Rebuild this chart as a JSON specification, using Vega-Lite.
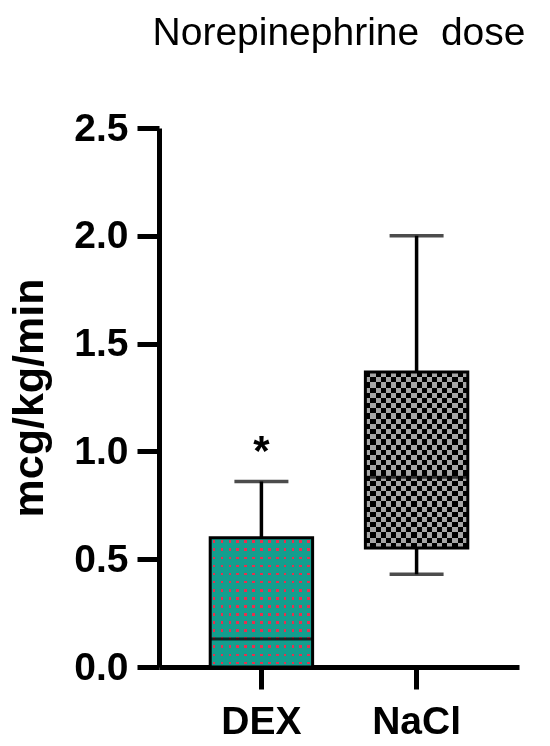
{
  "$schema": "https://vega.github.io/schema/vega-lite/v6.json",
  "width": 360,
  "height": 539,
  "autosize": {"type": "none"},
  "padding": {"left": 159, "top": 128, "right": 31, "bottom": 79},
  "background": "white",
  "title": {
    "text": "Norepinephrine\u00a0\u00a0dose",
    "font": "Liberation Sans",
    "fontSize": 39,
    "fontWeight": "normal",
    "color": "black",
    "anchor": "middle",
    "offset": 56
  },
  "data": {
    "values": [
      {"group": "DEX", "min": 0, "q1": 0, "median": 0.13, "q3": 0.6, "max": 0.86, "sig": "*"},
      {"group": "NaCl", "min": 0.43, "q1": 0.552, "median": 0.88, "q3": 1.368, "max": 2.0, "sig": ""}
    ]
  },
  "encoding": {
    "x": {
      "field": "group",
      "type": "nominal",
      "sort": ["DEX", "NaCl"],
      "title": null,
      "scale": {"paddingInner": 0.34, "paddingOuter": 0.33},
      "axis": {"labelAngle": 0}
    }
  },
  "layer": [
    {
      "mark": {"type": "rule", "color": "black", "strokeWidth": 3.5},
      "encoding": {
        "y": {"field": "min", "type": "quantitative", "title": "mcg/kg/min", "scale": {"domain": [0, 2.5]}, "axis": {"values": [0, 0.5, 1, 1.5, 2, 2.5], "format": ".1f"}},
        "y2": {"field": "max"}
      }
    },
    {
      "mark": {"type": "tick", "color": "black", "size": 54, "thickness": 3.5},
      "encoding": {
        "y": {"field": "min", "type": "quantitative", "title": "mcg/kg/min", "scale": {"domain": [0, 2.5]}, "axis": {"values": [0, 0.5, 1, 1.5, 2, 2.5], "format": ".1f"}}
      }
    },
    {
      "mark": {"type": "tick", "color": "black", "size": 54, "thickness": 3.5},
      "encoding": {
        "y": {"field": "max", "type": "quantitative", "title": "mcg/kg/min", "scale": {"domain": [0, 2.5]}, "axis": {"values": [0, 0.5, 1, 1.5, 2, 2.5], "format": ".1f"}}
      }
    },
    {
      "transform": [{"filter": "datum.group === 'DEX'"}],
      "mark": {
        "type": "bar",
        "fill": {
          "gradient": "linear", "x1": 0, "y1": 0, "x2": 1, "y2": 0,
          "stops": [
            {"offset": 0, "color": "#149e8e"},
            {"offset": 0.0255, "color": "#149e8e"}, {"offset": 0.0255, "color": "#e8304f"}, {"offset": 0.0515, "color": "#e8304f"}, {"offset": 0.0515, "color": "#149e8e"},
            {"offset": 0.1024, "color": "#149e8e"}, {"offset": 0.1024, "color": "#e8304f"}, {"offset": 0.1284, "color": "#e8304f"}, {"offset": 0.1284, "color": "#149e8e"},
            {"offset": 0.1793, "color": "#149e8e"}, {"offset": 0.1793, "color": "#e8304f"}, {"offset": 0.2053, "color": "#e8304f"}, {"offset": 0.2053, "color": "#149e8e"},
            {"offset": 0.2563, "color": "#149e8e"}, {"offset": 0.2563, "color": "#e8304f"}, {"offset": 0.2823, "color": "#e8304f"}, {"offset": 0.2823, "color": "#149e8e"},
            {"offset": 0.3332, "color": "#149e8e"}, {"offset": 0.3332, "color": "#e8304f"}, {"offset": 0.3592, "color": "#e8304f"}, {"offset": 0.3592, "color": "#149e8e"},
            {"offset": 0.4101, "color": "#149e8e"}, {"offset": 0.4101, "color": "#e8304f"}, {"offset": 0.4361, "color": "#e8304f"}, {"offset": 0.4361, "color": "#149e8e"},
            {"offset": 0.4870, "color": "#149e8e"}, {"offset": 0.4870, "color": "#e8304f"}, {"offset": 0.5130, "color": "#e8304f"}, {"offset": 0.5130, "color": "#149e8e"},
            {"offset": 0.5640, "color": "#149e8e"}, {"offset": 0.5640, "color": "#e8304f"}, {"offset": 0.5900, "color": "#e8304f"}, {"offset": 0.5900, "color": "#149e8e"},
            {"offset": 0.6409, "color": "#149e8e"}, {"offset": 0.6409, "color": "#e8304f"}, {"offset": 0.6669, "color": "#e8304f"}, {"offset": 0.6669, "color": "#149e8e"},
            {"offset": 0.7178, "color": "#149e8e"}, {"offset": 0.7178, "color": "#e8304f"}, {"offset": 0.7438, "color": "#e8304f"}, {"offset": 0.7438, "color": "#149e8e"},
            {"offset": 0.7947, "color": "#149e8e"}, {"offset": 0.7947, "color": "#e8304f"}, {"offset": 0.8207, "color": "#e8304f"}, {"offset": 0.8207, "color": "#149e8e"},
            {"offset": 0.8717, "color": "#149e8e"}, {"offset": 0.8717, "color": "#e8304f"}, {"offset": 0.8977, "color": "#e8304f"}, {"offset": 0.8977, "color": "#149e8e"},
            {"offset": 0.9486, "color": "#149e8e"}, {"offset": 0.9486, "color": "#e8304f"}, {"offset": 0.9746, "color": "#e8304f"}, {"offset": 0.9746, "color": "#149e8e"},
            {"offset": 1, "color": "#149e8e"}
          ]
        }
      },
      "encoding": {
        "y": {"field": "q1", "type": "quantitative", "title": "mcg/kg/min", "scale": {"domain": [0, 2.5]}, "axis": {"values": [0, 0.5, 1, 1.5, 2, 2.5], "format": ".1f"}},
        "y2": {"field": "q3"}
      }
    },
    {
      "transform": [{"filter": "datum.group === 'DEX'"}],
      "mark": {
        "type": "bar",
        "fill": {
          "gradient": "linear", "x1": 0, "y1": 0, "x2": 0, "y2": 1,
          "stops": [
            {"offset": 0, "color": "#149e8e"},
            {"offset": 0.021, "color": "#149e8e"}, {"offset": 0.021, "color": "rgba(20,158,142,0)"}, {"offset": 0.0415, "color": "rgba(20,158,142,0)"}, {"offset": 0.0415, "color": "#149e8e"},
            {"offset": 0.0835, "color": "#149e8e"}, {"offset": 0.0835, "color": "rgba(20,158,142,0)"}, {"offset": 0.104, "color": "rgba(20,158,142,0)"}, {"offset": 0.104, "color": "#149e8e"},
            {"offset": 0.146, "color": "#149e8e"}, {"offset": 0.146, "color": "rgba(20,158,142,0)"}, {"offset": 0.1665, "color": "rgba(20,158,142,0)"}, {"offset": 0.1665, "color": "#149e8e"},
            {"offset": 0.2085, "color": "#149e8e"}, {"offset": 0.2085, "color": "rgba(20,158,142,0)"}, {"offset": 0.229, "color": "rgba(20,158,142,0)"}, {"offset": 0.229, "color": "#149e8e"},
            {"offset": 0.271, "color": "#149e8e"}, {"offset": 0.271, "color": "rgba(20,158,142,0)"}, {"offset": 0.2915, "color": "rgba(20,158,142,0)"}, {"offset": 0.2915, "color": "#149e8e"},
            {"offset": 0.3335, "color": "#149e8e"}, {"offset": 0.3335, "color": "rgba(20,158,142,0)"}, {"offset": 0.354, "color": "rgba(20,158,142,0)"}, {"offset": 0.354, "color": "#149e8e"},
            {"offset": 0.396, "color": "#149e8e"}, {"offset": 0.396, "color": "rgba(20,158,142,0)"}, {"offset": 0.4165, "color": "rgba(20,158,142,0)"}, {"offset": 0.4165, "color": "#149e8e"},
            {"offset": 0.4585, "color": "#149e8e"}, {"offset": 0.4585, "color": "rgba(20,158,142,0)"}, {"offset": 0.479, "color": "rgba(20,158,142,0)"}, {"offset": 0.479, "color": "#149e8e"},
            {"offset": 0.521, "color": "#149e8e"}, {"offset": 0.521, "color": "rgba(20,158,142,0)"}, {"offset": 0.5415, "color": "rgba(20,158,142,0)"}, {"offset": 0.5415, "color": "#149e8e"},
            {"offset": 0.5835, "color": "#149e8e"}, {"offset": 0.5835, "color": "rgba(20,158,142,0)"}, {"offset": 0.604, "color": "rgba(20,158,142,0)"}, {"offset": 0.604, "color": "#149e8e"},
            {"offset": 0.646, "color": "#149e8e"}, {"offset": 0.646, "color": "rgba(20,158,142,0)"}, {"offset": 0.6665, "color": "rgba(20,158,142,0)"}, {"offset": 0.6665, "color": "#149e8e"},
            {"offset": 0.7085, "color": "#149e8e"}, {"offset": 0.7085, "color": "rgba(20,158,142,0)"}, {"offset": 0.729, "color": "rgba(20,158,142,0)"}, {"offset": 0.729, "color": "#149e8e"},
            {"offset": 0.771, "color": "#149e8e"}, {"offset": 0.771, "color": "rgba(20,158,142,0)"}, {"offset": 0.7915, "color": "rgba(20,158,142,0)"}, {"offset": 0.7915, "color": "#149e8e"},
            {"offset": 0.8335, "color": "#149e8e"}, {"offset": 0.8335, "color": "rgba(20,158,142,0)"}, {"offset": 0.854, "color": "rgba(20,158,142,0)"}, {"offset": 0.854, "color": "#149e8e"},
            {"offset": 0.896, "color": "#149e8e"}, {"offset": 0.896, "color": "rgba(20,158,142,0)"}, {"offset": 0.9165, "color": "rgba(20,158,142,0)"}, {"offset": 0.9165, "color": "#149e8e"},
            {"offset": 0.9585, "color": "#149e8e"}, {"offset": 0.9585, "color": "rgba(20,158,142,0)"}, {"offset": 0.979, "color": "rgba(20,158,142,0)"}, {"offset": 0.979, "color": "#149e8e"},
            {"offset": 1, "color": "#149e8e"}
          ]
        }
      },
      "encoding": {
        "y": {"field": "q1", "type": "quantitative", "title": "mcg/kg/min", "scale": {"domain": [0, 2.5]}, "axis": {"values": [0, 0.5, 1, 1.5, 2, 2.5], "format": ".1f"}},
        "y2": {"field": "q3"}
      }
    },
    {
      "transform": [{"filter": "datum.group === 'NaCl'"}],
      "mark": {
        "type": "bar",
        "fill": {
          "gradient": "linear", "x1": 0, "y1": 0, "x2": 1, "y2": 0,
          "stops": [
            {"offset": 0, "color": "#a6a6a6"}, {"offset": 0.05, "color": "#a6a6a6"}, {"offset": 0.05, "color": "#000000"}, {"offset": 0.1, "color": "#000000"},
            {"offset": 0.1, "color": "#a6a6a6"}, {"offset": 0.15, "color": "#a6a6a6"}, {"offset": 0.15, "color": "#000000"}, {"offset": 0.2, "color": "#000000"},
            {"offset": 0.2, "color": "#a6a6a6"}, {"offset": 0.25, "color": "#a6a6a6"}, {"offset": 0.25, "color": "#000000"}, {"offset": 0.3, "color": "#000000"},
            {"offset": 0.3, "color": "#a6a6a6"}, {"offset": 0.35, "color": "#a6a6a6"}, {"offset": 0.35, "color": "#000000"}, {"offset": 0.4, "color": "#000000"},
            {"offset": 0.4, "color": "#a6a6a6"}, {"offset": 0.45, "color": "#a6a6a6"}, {"offset": 0.45, "color": "#000000"}, {"offset": 0.5, "color": "#000000"},
            {"offset": 0.5, "color": "#a6a6a6"}, {"offset": 0.55, "color": "#a6a6a6"}, {"offset": 0.55, "color": "#000000"}, {"offset": 0.6, "color": "#000000"},
            {"offset": 0.6, "color": "#a6a6a6"}, {"offset": 0.65, "color": "#a6a6a6"}, {"offset": 0.65, "color": "#000000"}, {"offset": 0.7, "color": "#000000"},
            {"offset": 0.7, "color": "#a6a6a6"}, {"offset": 0.75, "color": "#a6a6a6"}, {"offset": 0.75, "color": "#000000"}, {"offset": 0.8, "color": "#000000"},
            {"offset": 0.8, "color": "#a6a6a6"}, {"offset": 0.85, "color": "#a6a6a6"}, {"offset": 0.85, "color": "#000000"}, {"offset": 0.9, "color": "#000000"},
            {"offset": 0.9, "color": "#a6a6a6"}, {"offset": 0.95, "color": "#a6a6a6"}, {"offset": 0.95, "color": "#000000"}, {"offset": 1, "color": "#000000"}
          ]
        }
      },
      "encoding": {
        "y": {"field": "q1", "type": "quantitative", "title": "mcg/kg/min", "scale": {"domain": [0, 2.5]}, "axis": {"values": [0, 0.5, 1, 1.5, 2, 2.5], "format": ".1f"}},
        "y2": {"field": "q3"}
      }
    },
    {
      "transform": [{"filter": "datum.group === 'NaCl'"}],
      "mark": {
        "type": "bar",
        "blend": "difference",
        "fill": {
          "gradient": "linear", "x1": 0, "y1": 0, "x2": 0, "y2": 1,
          "stops": [
            {"offset": 0, "color": "#a6a6a6"}, {"offset": 0.0294, "color": "#a6a6a6"}, {"offset": 0.0294, "color": "#000000"}, {"offset": 0.0588, "color": "#000000"},
            {"offset": 0.0588, "color": "#a6a6a6"}, {"offset": 0.0882, "color": "#a6a6a6"}, {"offset": 0.0882, "color": "#000000"}, {"offset": 0.1176, "color": "#000000"},
            {"offset": 0.1176, "color": "#a6a6a6"}, {"offset": 0.1471, "color": "#a6a6a6"}, {"offset": 0.1471, "color": "#000000"}, {"offset": 0.1765, "color": "#000000"},
            {"offset": 0.1765, "color": "#a6a6a6"}, {"offset": 0.2059, "color": "#a6a6a6"}, {"offset": 0.2059, "color": "#000000"}, {"offset": 0.2353, "color": "#000000"},
            {"offset": 0.2353, "color": "#a6a6a6"}, {"offset": 0.2647, "color": "#a6a6a6"}, {"offset": 0.2647, "color": "#000000"}, {"offset": 0.2941, "color": "#000000"},
            {"offset": 0.2941, "color": "#a6a6a6"}, {"offset": 0.3235, "color": "#a6a6a6"}, {"offset": 0.3235, "color": "#000000"}, {"offset": 0.3529, "color": "#000000"},
            {"offset": 0.3529, "color": "#a6a6a6"}, {"offset": 0.3824, "color": "#a6a6a6"}, {"offset": 0.3824, "color": "#000000"}, {"offset": 0.4118, "color": "#000000"},
            {"offset": 0.4118, "color": "#a6a6a6"}, {"offset": 0.4412, "color": "#a6a6a6"}, {"offset": 0.4412, "color": "#000000"}, {"offset": 0.4706, "color": "#000000"},
            {"offset": 0.4706, "color": "#a6a6a6"}, {"offset": 0.5, "color": "#a6a6a6"}, {"offset": 0.5, "color": "#000000"}, {"offset": 0.5294, "color": "#000000"},
            {"offset": 0.5294, "color": "#a6a6a6"}, {"offset": 0.5588, "color": "#a6a6a6"}, {"offset": 0.5588, "color": "#000000"}, {"offset": 0.5882, "color": "#000000"},
            {"offset": 0.5882, "color": "#a6a6a6"}, {"offset": 0.6176, "color": "#a6a6a6"}, {"offset": 0.6176, "color": "#000000"}, {"offset": 0.6471, "color": "#000000"},
            {"offset": 0.6471, "color": "#a6a6a6"}, {"offset": 0.6765, "color": "#a6a6a6"}, {"offset": 0.6765, "color": "#000000"}, {"offset": 0.7059, "color": "#000000"},
            {"offset": 0.7059, "color": "#a6a6a6"}, {"offset": 0.7353, "color": "#a6a6a6"}, {"offset": 0.7353, "color": "#000000"}, {"offset": 0.7647, "color": "#000000"},
            {"offset": 0.7647, "color": "#a6a6a6"}, {"offset": 0.7941, "color": "#a6a6a6"}, {"offset": 0.7941, "color": "#000000"}, {"offset": 0.8235, "color": "#000000"},
            {"offset": 0.8235, "color": "#a6a6a6"}, {"offset": 0.8529, "color": "#a6a6a6"}, {"offset": 0.8529, "color": "#000000"}, {"offset": 0.8824, "color": "#000000"},
            {"offset": 0.8824, "color": "#a6a6a6"}, {"offset": 0.9118, "color": "#a6a6a6"}, {"offset": 0.9118, "color": "#000000"}, {"offset": 0.9412, "color": "#000000"},
            {"offset": 0.9412, "color": "#a6a6a6"}, {"offset": 0.9706, "color": "#a6a6a6"}, {"offset": 0.9706, "color": "#000000"}, {"offset": 1, "color": "#000000"}
          ]
        }
      },
      "encoding": {
        "y": {"field": "q1", "type": "quantitative", "title": "mcg/kg/min", "scale": {"domain": [0, 2.5]}, "axis": {"values": [0, 0.5, 1, 1.5, 2, 2.5], "format": ".1f"}},
        "y2": {"field": "q3"}
      }
    },
    {
      "mark": {"type": "bar", "fillOpacity": 0, "stroke": "black", "strokeWidth": 3},
      "encoding": {
        "y": {"field": "q1", "type": "quantitative", "title": "mcg/kg/min", "scale": {"domain": [0, 2.5]}, "axis": {"values": [0, 0.5, 1, 1.5, 2, 2.5], "format": ".1f"}},
        "y2": {"field": "q3"}
      }
    },
    {
      "mark": {"type": "tick", "color": "black", "size": 102, "thickness": 3},
      "encoding": {
        "y": {"field": "median", "type": "quantitative", "title": "mcg/kg/min", "scale": {"domain": [0, 2.5]}, "axis": {"values": [0, 0.5, 1, 1.5, 2, 2.5], "format": ".1f"}}
      }
    },
    {
      "mark": {"type": "text", "font": "Liberation Sans", "fontWeight": "bold", "fontSize": 42, "color": "black", "baseline": "alphabetic", "dy": -17},
      "encoding": {
        "y": {"field": "max", "type": "quantitative", "title": "mcg/kg/min", "scale": {"domain": [0, 2.5]}, "axis": {"values": [0, 0.5, 1, 1.5, 2, 2.5], "format": ".1f"}},
        "text": {"field": "sig"}
      }
    }
  ],
  "config": {
    "view": {"stroke": null},
    "axis": {
      "grid": false,
      "domainColor": "black",
      "tickColor": "black",
      "labelColor": "black",
      "titleColor": "black",
      "labelFont": "Liberation Sans",
      "titleFont": "Liberation Sans",
      "labelFontWeight": "bold",
      "titleFontWeight": "bold",
      "labelFontSize": 39,
      "titleFontSize": 43,
      "domainWidth": 5,
      "tickWidth": 5,
      "tickSize": 22
    },
    "axisY": {"labelPadding": 9, "titlePadding": 22},
    "axisX": {"labelPadding": 13}
  }
}
